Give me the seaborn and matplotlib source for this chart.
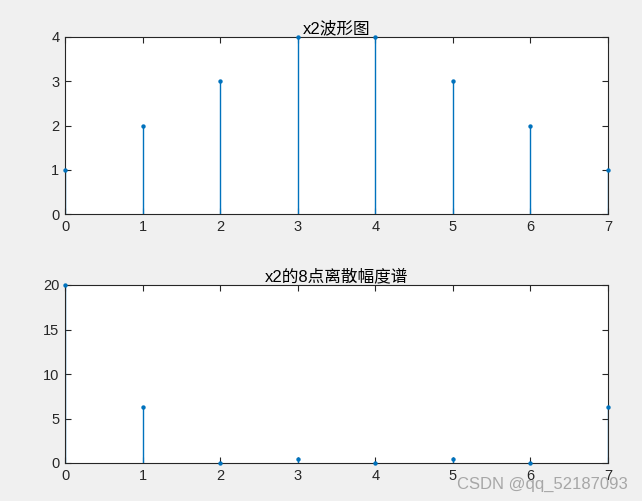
import numpy as np
import pandas as pd
import matplotlib
matplotlib.use("Agg")
import matplotlib.pyplot as plt
import seaborn as sns

n = [0, 1, 2, 3, 4, 5, 6, 7]
x2 = [1, 2, 3, 4, 4, 3, 2, 1]
X2_mag = [20, 6.31, 0.0, 0.45, 0.0, 0.45, 0.0, 6.31]
title1 = "x2波形图"
title2 = "x2的8点离散幅度谱"
xticks = [0, 1, 2, 3, 4, 5, 6, 7]
yticks1 = [0, 1, 2, 3, 4]
yticks2 = [0, 5, 10, 15, 20]

sns.set_style("white")
plt.rcParams['font.family'] = ['Liberation Sans', 'Noto Sans CJK SC', 'DejaVu Sans']
plt.rcParams['axes.unicode_minus'] = False

blue = "#0072BD"
ink = "#262626"

fig = plt.figure(figsize=(6.42, 5.01), dpi=100, facecolor="#f0f0f0")
ax1 = fig.add_axes([65/642, 1-214/501, (608-65)/642, (214-37)/501])
ax2 = fig.add_axes([65/642, 1-463/501, (608-65)/642, (463-285)/501])

def stem(ax, xs, ys, yt, ylim, title):
    df = pd.DataFrame({"n": xs, "v": ys})
    ax.vlines(df["n"], 0, df["v"], color=blue, linewidth=1.0, zorder=2)
    sns.scatterplot(data=df, x="n", y="v", ax=ax, color=blue, s=10,
                    edgecolor=blue, linewidth=0, zorder=3, clip_on=False)
    ax.set_xlim(0, 7)
    ax.set_ylim(*ylim)
    ax.set_xticks(xticks)
    ax.set_yticks(yt)
    ax.set_xlabel("")
    ax.set_ylabel("")
    ax.set_facecolor("white")
    for s in ax.spines.values():
        s.set_visible(True)
        s.set_color(ink)
        s.set_linewidth(0.8)
    ax.tick_params(direction="in", length=4, width=0.8, color=ink,
                   labelsize=10.5, labelcolor=ink, top=True, right=True,
                   bottom=True, left=True, pad=4)
    ax.set_title(title, fontsize=12, color="black", pad=3)

stem(ax1, n, x2, yticks1, (0, 4), title1)
stem(ax2, n, X2_mag, yticks2, (0, 20), title2)

fig.text(457/642, 1-484/501, "CSDN @qq_52187093", fontsize=12,
         color="#9a9a9a", alpha=0.85, va="center", ha="left")

fig.savefig("out.png", dpi=100, facecolor=fig.get_facecolor())
